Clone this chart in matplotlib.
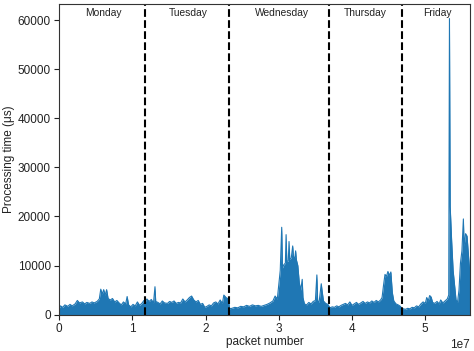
import matplotlib
matplotlib.use("Agg")
import matplotlib.pyplot as plt
import numpy as np

plt.rcParams['font.family'] = ['Liberation Sans', 'DejaVu Sans']

# packet number (units of 1e7) and processing time (us)
packet_e7 = [
    0.00, 0.02, 0.05, 0.08, 0.12, 0.15, 0.18, 0.22, 0.25, 0.28, 0.32, 0.35, 0.38, 0.42, 0.45, 0.48,
    0.52, 0.55, 0.57, 0.59, 0.61, 0.63, 0.65, 0.67, 0.70, 0.73, 0.76, 0.79, 0.82, 0.85, 0.88, 0.91,
    0.93, 0.95, 0.98, 1.01, 1.04, 1.07, 1.10, 1.13, 1.16, 1.18, 1.20, 1.23, 1.26, 1.29, 1.31, 1.32,
    1.35, 1.38, 1.41, 1.44, 1.48, 1.51, 1.54, 1.57, 1.60, 1.63, 1.66, 1.69, 1.72, 1.75, 1.78, 1.81,
    1.84, 1.87, 1.90, 1.93, 1.96, 1.99, 2.02, 2.05, 2.08, 2.11, 2.14, 2.17, 2.20, 2.23, 2.25, 2.28,
    2.31, 2.33, 2.36, 2.40, 2.44, 2.48, 2.52, 2.56, 2.60, 2.64, 2.68, 2.72, 2.76, 2.80, 2.84, 2.88,
    2.92, 2.95, 2.98, 3.00, 3.02, 3.04, 3.05, 3.07, 3.09, 3.10, 3.11, 3.13, 3.14, 3.15, 3.17, 3.19,
    3.20, 3.22, 3.23, 3.24, 3.26, 3.28, 3.30, 3.32, 3.33, 3.35, 3.38, 3.41, 3.44, 3.47, 3.50, 3.52,
    3.53, 3.55, 3.58, 3.59, 3.61, 3.64, 3.67, 3.70, 3.73, 3.76, 3.79, 3.82, 3.85, 3.88, 3.91, 3.94,
    3.97, 4.00, 4.03, 4.06, 4.09, 4.12, 4.15, 4.18, 4.21, 4.24, 4.27, 4.30, 4.33, 4.36, 4.39, 4.41,
    4.43, 4.45, 4.47, 4.49, 4.51, 4.53, 4.55, 4.57, 4.60, 4.63, 4.66, 4.68, 4.70, 4.73, 4.76, 4.79,
    4.82, 4.85, 4.88, 4.91, 4.94, 4.97, 5.00, 5.02, 5.04, 5.06, 5.08, 5.10, 5.13, 5.16, 5.19, 5.21,
    5.24, 5.27, 5.30, 5.32, 5.33, 5.34, 5.36, 5.38, 5.40, 5.42, 5.44, 5.46, 5.48, 5.50, 5.52, 5.53,
    5.55, 5.57, 5.59, 5.61,
]
proc_time_us = [
    1200, 1800, 1500, 2000, 1700, 2100, 1800, 2200, 2900, 2400, 2600, 2200, 2500, 2300, 2600, 2400,
    2700, 3200, 5200, 4200, 5100, 4000, 5100, 3300, 3000, 3300, 2600, 2900, 2400, 2000, 2600, 2200,
    3700, 2000, 1600, 2100, 1800, 2600, 1900, 2300, 2900, 2700, 3200, 2700, 3100, 2400, 5700, 2700,
    2500, 2200, 2800, 2400, 2300, 2700, 2500, 2800, 2300, 2500, 2400, 3200, 2600, 3000, 3500, 3800,
    3000, 2600, 2900, 2100, 2300, 1500, 1700, 2000, 1800, 2400, 2600, 2200, 3000, 2300, 4000, 3500,
    3200, 1200, 1300, 1500, 1400, 1700, 1600, 1900, 1700, 2000, 1800, 1900, 1700, 1900, 2100, 2400,
    2800, 3800, 3200, 6000, 9000, 17800, 9500, 10200, 10500, 16300, 10800, 11000, 14900, 11300, 11500, 14000,
    11800, 11600, 13000, 11200, 10000, 6500, 5000, 7200, 3500, 2200, 2000, 2500, 2200, 2700, 2900, 8100,
    2900, 2500, 6300, 5000, 2800, 2300, 2100, 1400, 1600, 1500, 1800, 1600, 1900, 2100, 2300, 2000,
    2600, 1900, 2200, 2500, 2100, 2400, 2700, 2300, 2600, 2400, 2800, 2500, 2900, 2600, 3000, 3500,
    6000, 8200, 7800, 8800, 8000, 8700, 4500, 2800, 2200, 2000, 1700, 1300, 1200, 1100, 1300, 1200,
    1500, 1400, 1800, 1600, 2200, 2600, 2300, 3500, 2800, 3900, 3600, 2500, 2300, 2700, 2200, 3000,
    2400, 2800, 3200, 4000, 60300, 22000, 15000, 9000, 6000, 3000, 2500, 5000, 10500, 13000, 19500, 14000,
    16500, 16000, 12000, 8000,
]

day_names = ["Monday", "Tuesday", "Wednesday", "Thursday", "Friday"]
day_label_x_e7 = [0.60, 1.76, 3.04, 4.18, 5.17]
day_bounds_e7 = [1.17, 2.318, 3.69, 4.68]

x = np.array(packet_e7) * 1e7
y = np.array(proc_time_us)

fig = plt.figure(figsize=(4.74, 3.51), dpi=100)
ax = fig.add_axes([0.1245, 0.1034, 0.867, 0.8843])

color = '#1f77b4'
ax.fill_between(x, 0, y, color=color, linewidth=0)
ax.plot(x, y, color=color, linewidth=0.8)

for b in day_bounds_e7:
    ax.axvline(b * 1e7, color='black', linestyle='--', linewidth=1.5)

for name, lx in zip(day_names, day_label_x_e7):
    ax.text(lx * 1e7, 0.988, name, transform=ax.get_xaxis_transform(),
            ha='center', va='top', fontsize=7.4, color='#222222')

ax.set_xlim(0, 5.61e7)
ax.set_ylim(0, 63200)
ax.set_yticks([0, 10000, 20000, 30000, 40000, 50000, 60000])
ax.set_xticks(np.array([0, 1, 2, 3, 4, 5]) * 1e7)
ax.tick_params(labelsize=8.5, pad=2.5, length=3.5, colors='#222222')
ax.xaxis.get_offset_text().set_fontsize(8.5)
ax.set_xlabel("packet number", fontsize=8.5, labelpad=1.0, color='#222222')
ax.set_ylabel("Processing time (μs)", fontsize=8.5, labelpad=1.5, color='#222222')
for s in ax.spines.values():
    s.set_color('#333333')

fig.savefig("out.png", dpi=100)
